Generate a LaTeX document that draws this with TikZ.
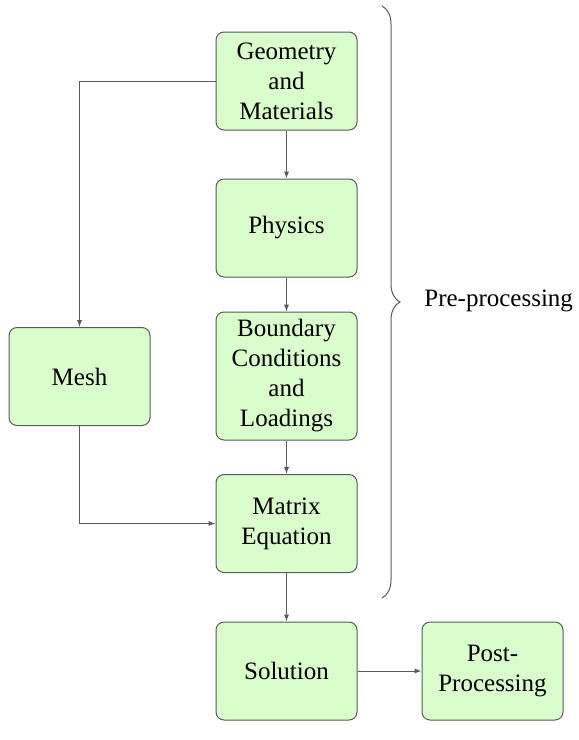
\documentclass[tikz,border=0pt]{standalone}
\usepackage{fontspec}
\setmainfont{Liberation Serif}
\usetikzlibrary{arrows.meta,decorations.pathreplacing}
\definecolor{boxfill}{RGB}{218,253,204}
\definecolor{linegray}{RGB}{90,90,90}
\begin{document}
\begin{tikzpicture}[x=0.5pt,y=-0.5pt,
  stepbox/.style={draw=linegray,fill=boxfill,rounded corners=4pt,line width=0.5pt,
    minimum width=70.5pt,minimum height=49pt,inner sep=0pt,align=center,
    font=\fontsize{12.5}{15}\selectfont},
  tallbox/.style={stepbox,minimum height=64pt},
  conn/.style={draw=linegray,line width=0.5pt,-{Latex[length=3.5pt,width=2.6pt]}}]
\useasboundingbox (0,0) rectangle (579,740);
\node[stepbox] (geo) at (286.5,81) {Geometry\\and\\Materials};
\node[stepbox] (phys) at (286.5,228) {Physics};
\node[tallbox] (bc) at (286.5,376) {Boundary\\Conditions\\and\\Loadings};
\node[stepbox] (mat) at (286.5,523.5) {Matrix\\Equation};
\node[stepbox] (sol) at (286.5,671) {Solution};
\node[stepbox] (post) at (492.5,671) {Post-\\Processing};
\node[stepbox] (mesh) at (79.5,376.5) {Mesh};
\draw[conn] (geo) -- (phys);
\draw[conn] (phys) -- (bc);
\draw[conn] (bc) -- (mat);
\draw[conn] (mat) -- (sol);
\draw[conn] (sol) -- (post);
\draw[conn] (geo.west) -| (mesh.north);
\draw[conn] (mesh.south) |- (mat.west);
\coordinate (btop) at (382,6);
\coordinate (bbot) at (382,598);
\draw[draw=linegray,line width=0.5pt,decorate,decoration={brace,amplitude=9pt}] (btop) -- (bbot);
\node[anchor=west,inner sep=0pt,font=\fontsize{12.5}{15}\selectfont] (pre) at (424,301) {Pre-processing};
\end{tikzpicture}
\end{document}
